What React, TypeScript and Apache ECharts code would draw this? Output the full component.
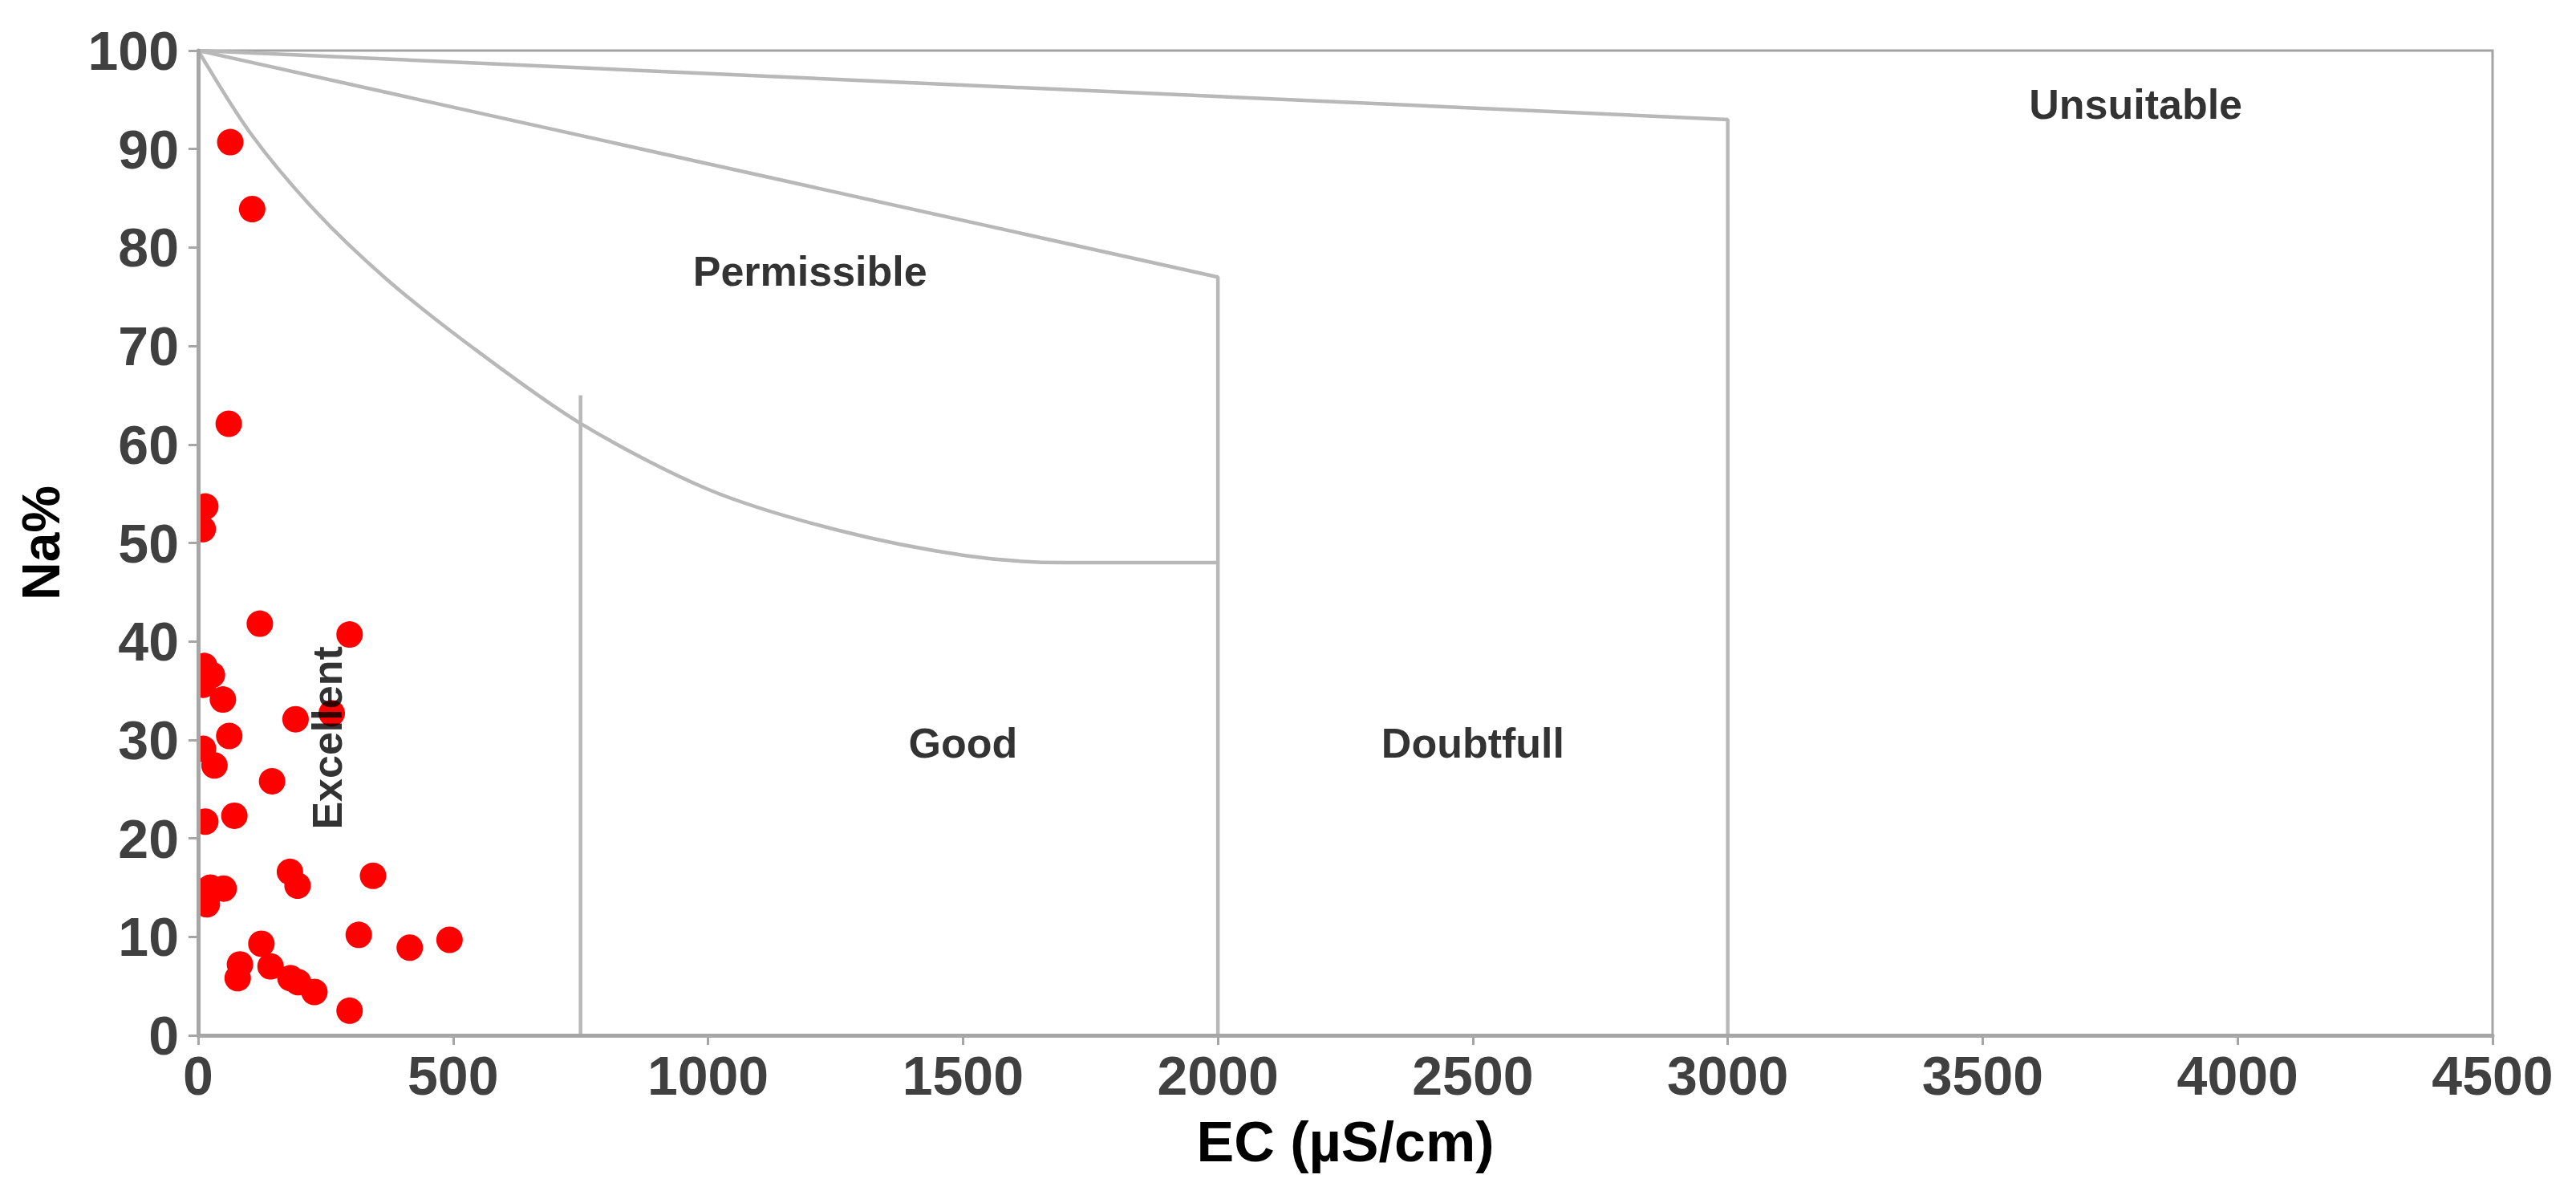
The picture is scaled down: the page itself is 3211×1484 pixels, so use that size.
import React, { useEffect, useRef } from 'react';
import * as echarts from 'echarts';

// 樣品點 [EC (µS/cm), Na%]
const samplePoints: [number, number][] = [
  [63, 90.7], [106, 83.9], [60, 62.1], [14, 53.7], [9, 51.4],
  [121, 41.8], [297, 40.7], [12, 37.5], [27, 36.6], [9.5, 35.6],
  [48.5, 34.1], [191, 32.1], [262, 32.7], [61, 30.4], [9.5, 29.1],
  [32, 27.4], [145, 25.8], [14, 21.7], [71, 22.3], [180, 16.6],
  [195, 15.2], [343, 16.2], [24, 15.0], [50, 14.9], [17, 13.3],
  [9.5, 14.2], [124, 9.3], [315, 10.2], [415, 8.9], [493, 9.7],
  [82, 7.2], [77.5, 5.8], [142, 7.0], [181, 5.8], [196, 5.4],
  [228, 4.4], [297, 2.5],
];

// 分區邊界
const unsuitableLine: [number, number][] = [[0, 100], [3000, 93], [3000, 0]];
const doubtfulLine: [number, number][] = [[0, 100], [2000, 77], [2000, 0]];
const goodCurve: [number, number][] = [
  [0, 100], [104, 91.5], [230, 83.7], [367, 76.9], [524, 70.4], [748, 62.2],
  [1002, 55.4], [1254, 51.3], [1507, 48.7], [1700, 48], [2000, 48],
];
const excellentLine: [number, number][] = [[750, 0], [750, 65]];

// 分區標籤
const regionNames = ['Unsuitable', 'Permissible', 'Good', 'Doubtfull', 'Excellent'];
const regionPositions: [number, number][] = [[3800, 94.5], [1200, 77.6], [1500, 29.7], [2500, 29.7], [253, 30.2]];
const regionRotations = [0, 0, 0, 0, 90];

const FONT = '"Liberation Sans", Arial, sans-serif';
const LINE_COLOR = '#b8b8b8';
const AXIS_COLOR = '#a6a6a6';

const App: React.FC = () => {
  const chartRef = useRef<HTMLDivElement>(null);

  useEffect(() => {
    if (!chartRef.current) return;
    const chart = echarts.init(chartRef.current, undefined, { renderer: 'svg' });

    const boundary = (data: [number, number][], smooth = false) => ({
      type: 'line' as const,
      data,
      symbol: 'none',
      silent: true,
      smooth: smooth ? 0.3 : false,
      z: 1,
      lineStyle: { color: LINE_COLOR, width: 4.5 },
    });

    const option: echarts.EChartsOption = {
      animation: false,
      backgroundColor: '#fff',
      textStyle: { fontFamily: FONT },
      grid: {
        left: 247,
        right: 104,
        top: 63,
        bottom: 194,
        show: true,
        borderColor: '#a3a3a3',
        borderWidth: 3,
      },
      // 遮住繪圖區左側外的點
      graphic: [
        {
          type: 'rect',
          z: 5,
          silent: true,
          shape: { x: 200, y: 40, width: 45, height: 1252 },
          style: { fill: '#fff' },
        },
      ],
      xAxis: {
        type: 'value',
        min: 0,
        max: 4500,
        interval: 500,
        z: 10,
        name: 'EC (µS/cm)',
        nameLocation: 'middle',
        nameGap: 98,
        nameTextStyle: { fontSize: 70, fontWeight: 'bold', color: '#000', fontFamily: FONT },
        axisLine: { show: true, lineStyle: { color: AXIS_COLOR, width: 5 } },
        axisTick: { show: true, length: 12, lineStyle: { color: AXIS_COLOR, width: 3 } },
        splitLine: { show: false },
        axisLabel: {
          fontSize: 68,
          fontWeight: 'bold',
          color: '#404040',
          margin: 16,
          fontFamily: FONT,
          formatter: (v: number) => String(v),
        },
      },
      yAxis: {
        type: 'value',
        min: 0,
        max: 100,
        interval: 10,
        z: 10,
        name: 'Na%',
        nameLocation: 'middle',
        nameRotate: 90,
        nameGap: 163,
        nameTextStyle: { fontSize: 66, fontWeight: 'bold', color: '#000', fontFamily: FONT },
        axisLine: { show: true, lineStyle: { color: AXIS_COLOR, width: 5 } },
        axisTick: { show: true, length: 12, lineStyle: { color: AXIS_COLOR, width: 3 } },
        splitLine: { show: false },
        axisLabel: { fontSize: 68, fontWeight: 'bold', color: '#404040', margin: 24, fontFamily: FONT },
      },
      series: [
        boundary(unsuitableLine),
        boundary(doubtfulLine),
        boundary(goodCurve, true),
        boundary(excellentLine),
        {
          type: 'scatter',
          data: samplePoints,
          symbol: 'circle',
          symbolSize: 33,
          z: 3,
          itemStyle: { color: '#ff0000', opacity: 1 },
        },
        {
          type: 'scatter',
          silent: true,
          symbolSize: 0,
          z: 6,
          itemStyle: { color: 'transparent' },
          data: regionNames.map((name, i) => ({
            name,
            value: regionPositions[i],
            label: { rotate: regionRotations[i] },
          })),
          label: {
            show: true,
            position: 'inside',
            formatter: '{b}',
            fontSize: 52,
            fontWeight: 'bold',
            color: '#000',
            fontFamily: FONT,
          },
        },
      ],
    };

    chart.setOption(option);

    return () => {
      chart.dispose();
    };
  }, []);

  return (
    <div
      ref={chartRef}
      style={{ position: 'absolute', left: 0, top: 0, width: 3211, height: 1484, background: '#fff' }}
    />
  );
};

export default App;
